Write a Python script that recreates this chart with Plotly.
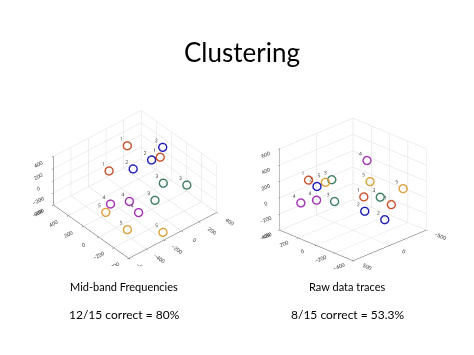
import plotly.graph_objects as go

# ---- data: panel 1 (Mid-band Frequencies) ----
p1_x = [50, 290, 210, 150, -235, -25, 125, 290, -330, -210, -60, -410, -225, -400, -175]
p1_y = [380, 190, 130, 175, 290, 215, -10, -130, 160, 50, -115, 130, -90, -145, -355]
p1_z = [280, 240, 190, 150, 160, 100, -50, -100, -200, -150, -100, -250, -200, -300, -330]
p1_cls = ["red", "blue", "red", "blue", "red", "blue", "green", "green", "magenta",
          "magenta", "green", "yellow", "magenta", "yellow", "yellow"]

# ---- data: panel 2 (Raw data traces) ----
p2_x = [-103, 217, 139, 78, -112, 197, -356, -86, -194, 224, 123, 310, -280, -57, -123]
p2_y = [-68, 315, 194, 172, -94, 239, -260, -47, -140, 222, 106, 325, -192, -80, -246]
p2_z = [450, 150, 150, 170, 200, 100, 100, 0, 0, -50, -50, -100, -100, -150, -200]
p2_cls = ["magenta", "red", "yellow", "green", "yellow", "blue", "yellow", "red", "green",
          "magenta", "green", "magenta", "red", "blue", "blue"]

cls_label = {"red": "1", "blue": "2", "green": "3", "magenta": "4", "yellow": "5"}
cls_color = {"red": "#c8502a", "blue": "#1c1cb4", "green": "#3d7d62",
             "magenta": "#a32fb5", "yellow": "#dca03a"}

title = "Clustering"
sub1 = ["Mid-band Frequencies", "12/15 correct = 80%"]
sub2 = ["Raw data traces", "8/15 correct = 53.3%"]

fig = go.Figure()

def add_points(xs, ys, zs, cls, scene):
    fig.add_trace(go.Scatter3d(
        x=xs, y=ys, z=zs, mode="markers+text",
        text=[cls_label[c] for c in cls], textposition="top left",
        textfont=dict(size=5, color="#333333"),
        marker=dict(symbol="circle-open", size=5,
                    color=[cls_color[c] for c in cls],
                    line=dict(width=2, color=[cls_color[c] for c in cls])),
        scene=scene, showlegend=False, hoverinfo="skip"))

add_points(p1_x, p1_y, p1_z, p1_cls, "scene")
add_points(p2_x, p2_y, p2_z, p2_cls, "scene2")

def ax(rng, dtick):
    return dict(range=rng, dtick=dtick, title=dict(text=""), showbackground=False,
                gridcolor="#dcdcdc", gridwidth=1, zeroline=False,
                showline=True, linecolor="#555555", linewidth=1,
                ticks="outside", ticklen=2, tickcolor="#555555",
                tickfont=dict(size=8, color="#333333", family="Liberation Sans"),
                showspikes=False)

fig.update_layout(
    width=474, height=355, margin=dict(l=0, r=0, t=0, b=0),
    paper_bgcolor="white", plot_bgcolor="white",
    scene=dict(domain=dict(x=[0.04, 0.53], y=[0.25, 0.71]),
               xaxis=ax([-600, 400], 200), yaxis=ax([-400, 600], 200), zaxis=ax([-400, 400], 200),
               aspectmode="manual", aspectratio=dict(x=1.42, y=1.42, z=0.75),
               camera=dict(eye=dict(x=-0.79, y=-0.92, z=0.93), projection=dict(type="orthographic"))),
    scene2=dict(domain=dict(x=[0.5, 0.99], y=[0.235, 0.695]),
                xaxis=ax([500, -500], 500), yaxis=ax([-400, 400], 200), zaxis=ax([-400, 600], 200),
                aspectmode="manual", aspectratio=dict(x=1.27, y=1.27, z=1.1),
                camera=dict(eye=dict(x=-0.97, y=-0.97, z=0.63), projection=dict(type="orthographic"))),
)

fig.add_annotation(text=title, x=0.51, y=0.853, xref="paper", yref="paper", showarrow=False,
                   xanchor="center", yanchor="middle", font=dict(family="Lato", size=26, color="black"))
for i, (a, b) in enumerate([sub1, sub2]):
    cx = [0.262, 0.733][i]
    fig.add_annotation(text=a, x=cx, y=0.194, xref="paper", yref="paper", showarrow=False,
                       xanchor="center", yanchor="middle", font=dict(family="Lato", size=11, color="black"))
    fig.add_annotation(text=b, x=cx, y=0.113, xref="paper", yref="paper", showarrow=False,
                       xanchor="center", yanchor="middle", font=dict(family="Lato", size=12, color="black"))

fig.write_html("out.html")
